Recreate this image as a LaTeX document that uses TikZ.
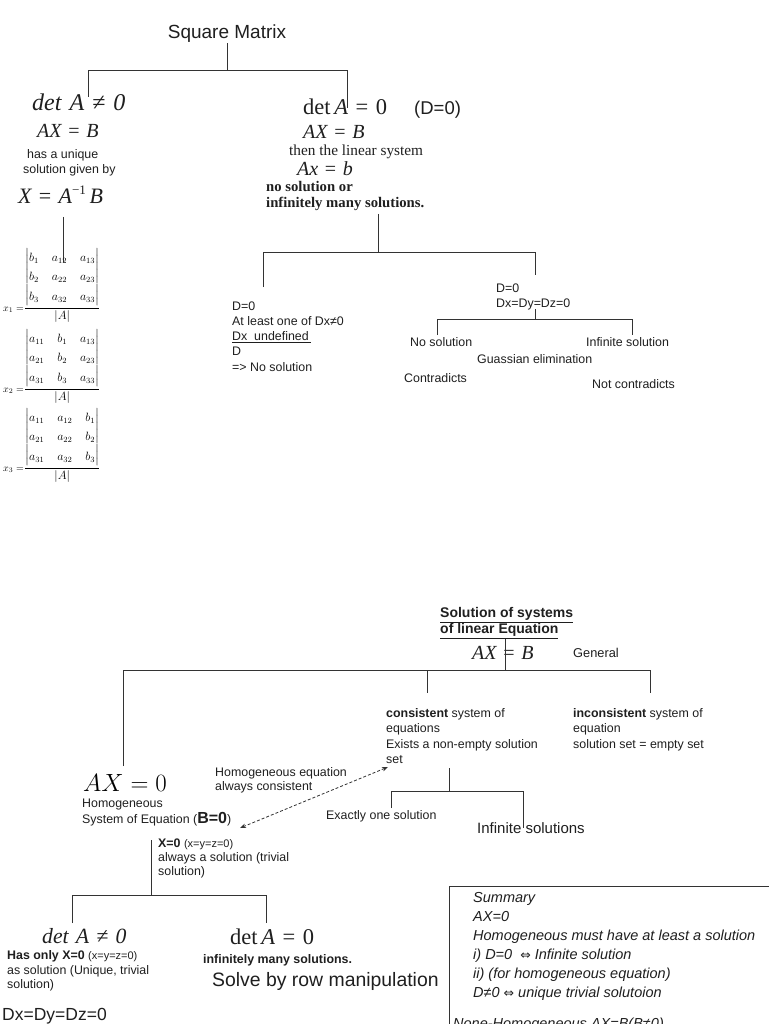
\documentclass[tikz,border=0pt]{standalone}
\usepackage{amsmath}
\usepackage{fontspec}
\setmainfont{Liberation Serif}
\setsansfont{Liberation Sans}
\newfontfamily\dvs{DejaVu Sans}
\usetikzlibrary{arrows.meta}
\newcommand{\fsz}[1]{\fontsize{#1}{#1}\selectfont}
\newcommand{\iffarrow}{{\dvs\upshape\fsz{12.5}⇔}}
\newcommand{\xlab}[1]{\mbox{\fsz{10}$x_{#1} =$}}
\tikzset{
  every node/.style={inner sep=0pt, anchor=base west, text=black!88},
  sm/.style={font=\sffamily\fsz{12.4}},
  summ/.style={font=\sffamily\itshape\fsz{14.5}},
  tim/.style={font=\rmfamily\fsz{15.3}},
  timb/.style={font=\rmfamily\bfseries\fsz{14.7}},
  eqn/.style={font=\rmfamily\itshape\fsz{20}},
  bigdet/.style={font=\rmfamily\fsz{22.5}},
  conn/.style={draw=black!80, line width=0.9pt},
  mat/.style={font=\fsz{11.5}, text=black},
}
\begin{document}
\begin{tikzpicture}[x=1pt,y=-1pt]
\useasboundingbox (0,0) rectangle (768,1024);
\fill[white] (0,0) rectangle (768,1024);

% ---------------- top tree ----------------
\node[font=\sffamily\fsz{19}, anchor=base] (sq) at (227,39) {Square Matrix};
\coordinate (j1) at (227,70);
\coordinate (l1) at (88,70);
\coordinate (l1e) at (88,97);
\coordinate (r1) at (347,70);
\coordinate (r1e) at (347,108);
\draw[conn] (sq.south) -- (j1);
\draw[conn] (l1e) -- (l1) -- (r1) -- (r1e);

% left branch
\node[font=\rmfamily\itshape\fsz{24}] (dA) at (32,111) {det\,\,A\,\,≠\,\,0};
\node[eqn] (axb1) at (37,138) {AX\,\,{\upshape =}\,\,B};
\node[sm] (hu1) at (27,159) {has a unique};
\node[sm] (hu2) at (23,174) {solution given by};
\node[font=\rmfamily\itshape\fsz{22}] (xab) at (18,204) {X\,\,{\upshape =}\,\,A\raisebox{0.42em}{\upshape\fsz{13}−1}\,B};
\coordinate (xv1) at (63,217);
\coordinate (xv2) at (63,262);
\draw[conn] (xv1) -- (xv2);

\node[mat] (m1) at (3,311) {$\setlength{\arraycolsep}{6.5pt}\renewcommand{\arraystretch}{1.7}\xlab{1}\dfrac{\begin{vmatrix} b_1 & a_{12} & a_{13}\\ b_2 & a_{22} & a_{23}\\ b_3 & a_{32} & a_{33}\end{vmatrix}}{|A|}$};
\node[mat] (m2) at (3,392) {$\setlength{\arraycolsep}{6.5pt}\renewcommand{\arraystretch}{1.7}\xlab{2}\dfrac{\begin{vmatrix} a_{11} & b_1 & a_{13}\\ a_{21} & b_2 & a_{23}\\ a_{31} & b_3 & a_{33}\end{vmatrix}}{|A|}$};
\node[mat] (m3) at (3,471) {$\setlength{\arraycolsep}{6.5pt}\renewcommand{\arraystretch}{1.7}\xlab{3}\dfrac{\begin{vmatrix} a_{11} & a_{12} & b_1\\ a_{21} & a_{22} & b_2\\ a_{31} & a_{32} & b_3\end{vmatrix}}{|A|}$};

% right branch
\node[bigdet] (dA0) at (303,115) {det\,{\itshape A}\,\,=\,\,0};
\node[font=\sffamily\fsz{18.5}] (d0) at (414,115) {(D=0)};
\node[eqn] (axb2) at (303,139) {AX\,\,{\upshape =}\,\,B};
\node[tim] (tls) at (289,156) {then the linear system};
\node[eqn] (axb3) at (297,176) {Ax\,\,{\upshape =}\,\,b};
\node[timb] (nso) at (266,192) {no solution or};
\node[timb] (ims) at (266,208) {infinitely many solutions.};

\coordinate (j2) at (378,214);
\coordinate (j2b) at (378,252);
\coordinate (l2) at (263,252);
\coordinate (l2e) at (263,287);
\coordinate (r2) at (535,252);
\coordinate (r2e) at (535,275);
\draw[conn] (j2) -- (j2b);
\draw[conn] (l2e) -- (l2) -- (r2) -- (r2e);

\node[sm] (a1) at (232,310) {D=0};
\node[sm] (a2) at (232,325) {At least one of Dx≠0};
\node[sm] (a3) at (232,340) {\underline{Dx\ \ undefined\,}};
\node[sm] (a4) at (232,355) {D};
\node[sm] (a5) at (232,371) {=> No solution};

\node[sm] (b1) at (496,292) {D=0};
\node[sm] (b2) at (496,307) {Dx=Dy=Dz=0};
\coordinate (j3) at (535,309);
\coordinate (j3b) at (535,319);
\coordinate (l3) at (437,319);
\coordinate (l3e) at (437,335);
\coordinate (r3) at (632,319);
\coordinate (r3e) at (632,335);
\draw[conn] (j3) -- (j3b);
\draw[conn] (l3e) -- (l3) -- (r3) -- (r3e);

\node[sm] (ns) at (410,346) {No solution};
\node[sm] (is) at (586,346) {Infinite solution};
\node[sm] (ge) at (477,363) {Guassian elimination};
\node[sm] (ct) at (404,382) {Contradicts};
\node[sm] (nct) at (592,388) {Not contradicts};

% ---------------- bottom tree ----------------
\node[font=\sffamily\bfseries\fsz{14}] (s1) at (440,617) {\underline{Solution of systems}};
\node[font=\sffamily\bfseries\fsz{14}] (s2) at (440,633) {\underline{of linear Equation}};
\node[eqn] (axb4) at (472,659) {AX\,\,{\upshape =}\,\,B};
\node[font=\sffamily\fsz{12.8}] (gen) at (573,657) {General};

\coordinate (j4) at (505,639);
\coordinate (j4b) at (505,670);
\coordinate (l4) at (123,670);
\coordinate (l4e) at (123,766);
\coordinate (r4) at (650,670);
\coordinate (r4e) at (650,693);
\coordinate (c4) at (427,670);
\coordinate (c4e) at (427,693);
\draw[conn] (j4) -- (j4b);
\draw[conn] (l4e) -- (l4) -- (r4) -- (r4e);
\draw[conn] (c4) -- (c4e);

\node[sm] (c1) at (386,717) {\textbf{consistent} system of};
\node[sm] (c2) at (386,732) {equations};
\node[sm] (c3) at (386,748) {Exists a non-empty solution};
\node[sm] (c5) at (386,763) {set};

\node[sm] (i1) at (573,717) {\textbf{inconsistent} system of};
\node[sm] (i2) at (573,732) {equation};
\node[sm] (i3) at (573,748) {solution set = empty set};

\coordinate (j5) at (449,768);
\coordinate (j5b) at (449,791);
\coordinate (l5) at (391,791);
\coordinate (l5e) at (391,808);
\coordinate (r5) at (523,791);
\coordinate (r5e) at (523,828);
\draw[conn] (j5) -- (j5b);
\draw[conn] (l5e) -- (l5) -- (r5) -- (r5e);

\node[sm] (eos) at (326,819) {Exactly one solution};
\node[font=\sffamily\fsz{15}] (infs) at (477,833) {Infinite solutions};

\node[sm] (he1) at (215,776) {Homogeneous equation};
\node[sm] (he2) at (215,790) {always consistent};
\coordinate (ha1) at (388,767);
\coordinate (ha2) at (240,828);
\draw[draw=black!80, line width=0.8pt, dash pattern=on 3pt off 2pt, {Stealth[length=6pt,width=4.5pt]}-{Stealth[length=6pt,width=4.5pt]}] (ha1) -- (ha2);

\node[font=\fsz{24.5}, text=black] (ax0) at (83,791) {$AX = 0$};
\node[sm] (hm1) at (82,807) {Homogeneous};
\node[sm] (hm2) at (82,823) {System of Equation ({\bfseries\fsz{16}B=0})};

\coordinate (j6) at (151,840);
\coordinate (j6b) at (151,895);
\coordinate (l6) at (72,895);
\coordinate (l6e) at (72,923);
\coordinate (r6) at (266,895);
\coordinate (r6e) at (266,923);
\draw[conn] (j6) -- (j6b);
\draw[conn] (l6e) -- (l6) -- (r6) -- (r6e);

\node[sm] (x01) at (158,847) {\textbf{X=0} {\fsz{11}(x=y=z=0)}};
\node[sm] (x02) at (158,861) {always a solution (trivial};
\node[sm] (x03) at (158,875) {solution)};

\node[font=\rmfamily\itshape\fsz{21.7}] (dA2) at (42,943) {det\,\,A\,\,≠\,\,0};
\node[sm] (ho1) at (7,959) {\textbf{Has only X=0} {\fsz{11}(x=y=z=0)}};
\node[sm] (ho2) at (7,974) {as solution (Unique, trivial};
\node[sm] (ho3) at (7,988) {solution)};
\node[font=\sffamily\fsz{17.5}] (dxyz) at (2,1020) {Dx=Dy=Dz=0};

\node[bigdet] (dA3) at (230,944) {det\,{\itshape A}\,\,=\,\,0};
\node[font=\sffamily\bfseries\fsz{12.4}] (ims2) at (203,963) {infinitely many solutions.};
\node[font=\sffamily\fsz{19.4}] (srm) at (212,986) {Solve by row manipulation};

% ---------------- summary box ----------------
\draw[draw=black!80, line width=0.8pt] (449,1040) -- (449,886) -- (790,886);
\node[summ] (su1) at (473,902) {Summary};
\node[summ] (su2) at (473,921) {AX=0};
\node[summ] (su3) at (473,940) {Homogeneous must have at least a solution};
\node[summ] (su4) at (473,959) {i) D=0 \ \iffarrow\ Infinite solution};
\node[summ] (su5) at (473,978) {ii) (for homogeneous equation)};
\node[summ] (su6) at (473,997) {D≠0 \iffarrow\ unique trivial solutoion};
\node[summ] (su7) at (453,1028) {None-Homogeneous AX=B(B≠0)};
\end{tikzpicture}
\end{document}
